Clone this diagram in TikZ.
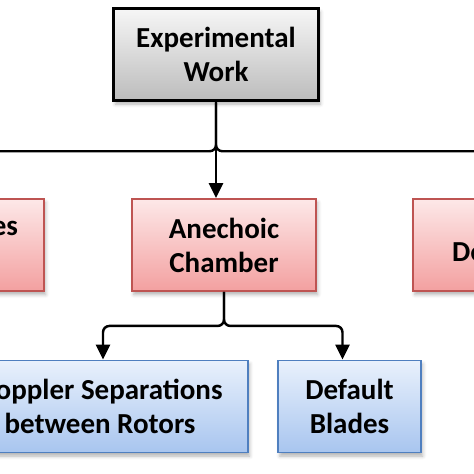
\documentclass[tikz,border=0pt]{standalone}
\usepackage{fontspec}
\setmainfont{Carlito}
\usepackage{tikz}
\usetikzlibrary{arrows.meta,positioning,shadows.blur}

\definecolor{redtop}{HTML}{FDE8E8}
\definecolor{redbot}{HTML}{F3A0A0}
\definecolor{redline}{HTML}{BE5452}
\definecolor{bluetop}{HTML}{E9F1FC}
\definecolor{bluebot}{HTML}{A8C5EF}
\definecolor{blueline}{HTML}{4F7FBF}
\definecolor{graytop}{HTML}{F6F6F6}
\definecolor{graybot}{HTML}{BCBCBC}

\tikzset{
    box/.style={rectangle, minimum height=1.84cm, align=center, inner sep=0pt,
            font=\fontsize{16.5pt}{19.4pt}\selectfont\bfseries,
            blur shadow={shadow xshift=1pt, shadow yshift=-2pt, shadow blur radius=2pt, shadow opacity=30}},
    topbox/.style={box, draw=black, line width=2pt, top color=graytop, bottom color=graybot},
    redbox/.style={box, draw=redline, line width=1.1pt, top color=redtop, bottom color=redbot},
    bluebox/.style={box, draw=blueline, line width=1.1pt, top color=bluetop, bottom color=bluebot},
    conn/.style={line width=1.4pt, rounded corners=3.6pt, -{Triangle[length=0.3cm, width=0.28cm]}}
}

\begin{document}
\begin{tikzpicture}[x=0.02cm, y=-0.02cm]
    \useasboundingbox (0,0) rectangle (474,474);
    \clip (0,0) rectangle (474,474);
    % top level
    \node[topbox, minimum width=4.1cm] (work) at (216,54.5) {Experimental\\Work};
    % second level
    \node[redbox, minimum width=3.68cm] (anech) at (224,245) {Anechoic\\Chamber};
    \node[redbox, text width=2.64cm, inner xsep=0.52cm, align=right] (leftbox) at (-48,245) {es\\~};
    \node[redbox, text width=2.12cm, inner xsep=0.78cm, align=left] (rightbox) at (505,245) {~\\De};
    % third level
    \node[bluebox, minimum width=5.92cm] (dopp) at (100,406.5) {Doppler Separations\\between Rotors};
    \node[bluebox, minimum width=2.86cm] (blades) at (349.5,406.5) {Default\\Blades};
    % connectors
    \draw[conn] (work.south) -- ++(0,49) -| (leftbox.north);
    \draw[conn] (work.south) -- ++(0,49) -| (rightbox.north);
    \draw[conn] (work.south) -- (work.south |- anech.north);
    \draw[conn] (anech.south) -- ++(0,34) -| ([xshift=0.06cm]dopp.north);
    \draw[conn] (anech.south) -- ++(0,34) -| ([xshift=-0.14cm]blades.north);
\end{tikzpicture}
\end{document}
